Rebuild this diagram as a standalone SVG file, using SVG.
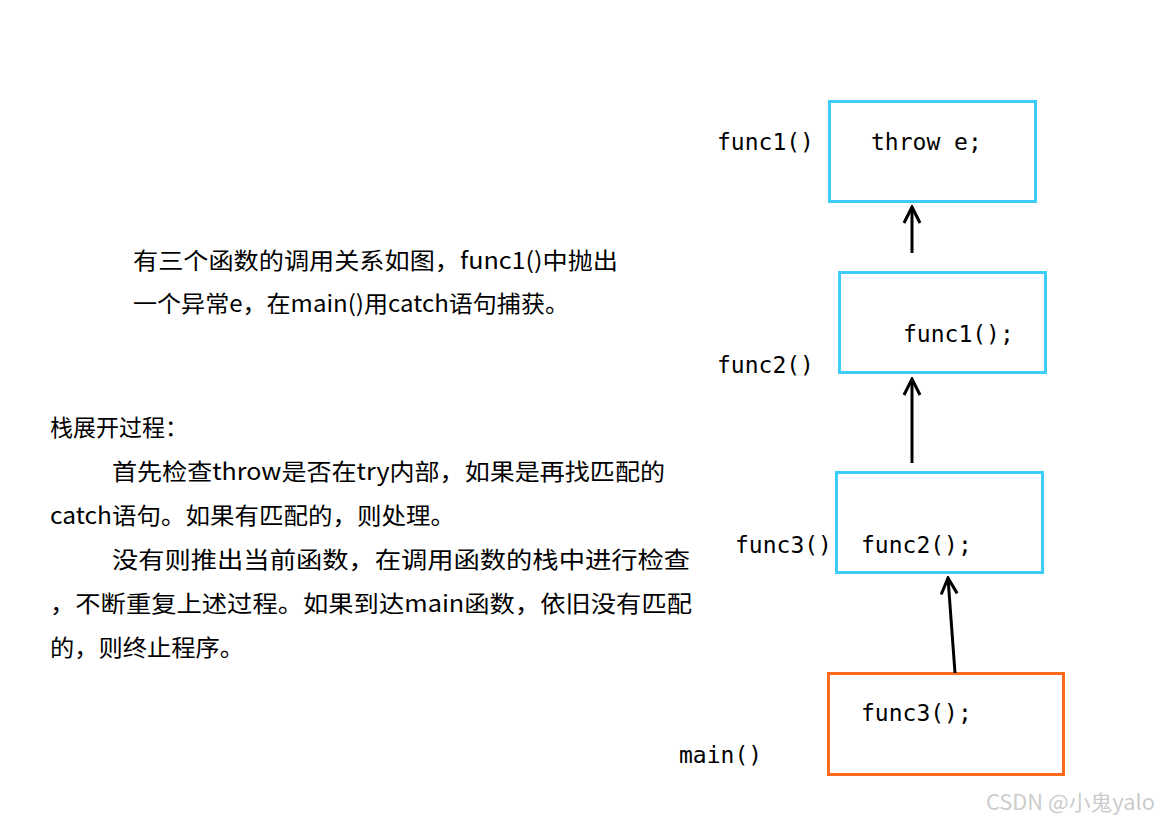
<svg xmlns="http://www.w3.org/2000/svg" width="1158" height="822" viewBox="0 0 1158 822">
<style>
.m{font-family:"DejaVu Sans Mono",monospace;font-size:23px;fill:#000}
.c{font-family:"Noto Sans CJK SC","Noto Sans",sans-serif;font-size:23px;fill:#000}
.b{fill:none;stroke:#3ccdfa;stroke-width:3}
.o{fill:none;stroke:#fa6a1e;stroke-width:3}
.a{stroke:#000;stroke-width:3;fill:none;marker-end:url(#hh)}
</style>
<defs><marker id="hh" viewBox="0 0 20 20" refX="18" refY="10" markerWidth="20" markerHeight="20" orient="auto" markerUnits="userSpaceOnUse"><path d="M2,2 L18,10 L2,18" fill="none" stroke="#000" stroke-width="3"/></marker></defs>
<rect width="1158" height="822" fill="#fff"/>
<g id="n1"><rect class="b" x="829.5" y="101.5" width="206" height="100"/><text class="m" x="871" y="150">throw e;</text></g>
<g id="n2"><rect class="b" x="839.5" y="272.5" width="206" height="100"/><text class="m" x="903" y="342">func1();</text></g>
<g id="n3"><rect class="b" x="836.5" y="472.5" width="206" height="100"/><text class="m" x="861" y="553">func2();</text></g>
<g id="n4"><rect class="o" x="828.5" y="673.5" width="235" height="101"/><text class="m" x="861" y="721">func3();</text></g>
<g id="labels">
<text class="m" x="717" y="150">func1()</text>
<text class="m" x="717" y="373">func2()</text>
<text class="m" x="735" y="553">func3()</text>
<text class="m" x="679" y="763">main()</text>
</g>
<g id="connectors">
<line class="a" x1="912" y1="253" x2="912" y2="207"/>
<line class="a" x1="912" y1="463" x2="912" y2="379"/>
<line class="a" x1="955" y1="673" x2="948" y2="578"/>
</g>
<g id="text">
<text class="c" x="133" y="269" textLength="485" lengthAdjust="spacingAndGlyphs">有三个函数的调用关系如图，func1()中抛出</text>
<text class="c" x="133" y="312" textLength="436" lengthAdjust="spacingAndGlyphs">一个异常e，在main()用catch语句捕获。</text>
<text class="c" x="50" y="436" textLength="138" lengthAdjust="spacingAndGlyphs">栈展开过程：</text>
<text class="c" x="112" y="480" textLength="553" lengthAdjust="spacingAndGlyphs">首先检查throw是否在try内部，如果是再找匹配的</text>
<text class="c" x="50" y="524" textLength="405" lengthAdjust="spacingAndGlyphs">catch语句。如果有匹配的，则处理。</text>
<text class="c" x="112" y="568" textLength="578" lengthAdjust="spacingAndGlyphs">没有则推出当前函数，在调用函数的栈中进行检查</text>
<text class="c" x="50" y="612" textLength="642" lengthAdjust="spacingAndGlyphs">，不断重复上述过程。如果到达main函数，依旧没有匹配</text>
<text class="c" x="50" y="656" textLength="194" lengthAdjust="spacingAndGlyphs">的，则终止程序。</text>
<text x="986" y="810" style="font-family:'Noto Sans CJK SC',sans-serif;font-size:21px;fill:#ccc" textLength="169" lengthAdjust="spacingAndGlyphs">CSDN @小鬼yalo</text>
</g>
</svg>
